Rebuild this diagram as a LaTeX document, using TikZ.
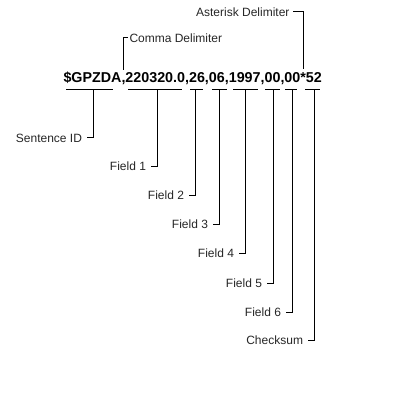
\documentclass[tikz,border=0pt]{standalone}
\usepackage{fontspec}
\setmainfont{Liberation Sans}
\begin{document}
\begin{tikzpicture}[x=1pt,y=-1pt,
  line width=1pt,
  lbl/.style={anchor=east, inner xsep=4.5pt, inner ysep=0pt, font=\fontsize{12}{14}\selectfont, text=black!85},
  conn/.style={draw=black, line width=1pt},
  uline/.style={draw=black, line width=1pt}]
\useasboundingbox (0,0) rectangle (403,414);
\node[anchor=base west, inner sep=0pt, font=\fontsize{14.3}{16}\selectfont\bfseries] (nmea) at (63,83) {\$GPZDA,220320.0,26,06,1997,00,00*52};

% underline segments and their tap points
\draw[uline] (66,90) -- (113,90);
\draw[uline] (128,90) -- (182,90);
\draw[uline] (190,90) -- (203,90);
\draw[uline] (212,90) -- (227,90);
\draw[uline] (233,90) -- (258,90);
\draw[uline] (265,90) -- (280,90);
\draw[uline] (285,90) -- (297,90);
\draw[uline] (305,90) -- (320,90);
\coordinate (u1) at (93,90);
\coordinate (u2) at (157,90);
\coordinate (u3) at (195,90);
\coordinate (u4) at (219,90);
\coordinate (u5) at (245,90);
\coordinate (u6) at (273,90);
\coordinate (u7) at (292,90);
\coordinate (u8) at (314,90);

% labels
\node[lbl] (l1) at (87,138) {Sentence ID};
\node[lbl] (l2) at (151,166) {Field 1};
\node[lbl] (l3) at (189,195) {Field 2};
\node[lbl] (l4) at (213,224) {Field 3};
\node[lbl] (l5) at (239,253) {Field 4};
\node[lbl] (l6) at (267,283) {Field 5};
\node[lbl] (l7) at (286,312) {Field 6};
\node[lbl] (l8) at (308,340) {Checksum};

\draw[conn] (u1) |- (l1.east);
\draw[conn] (u2) |- (l2.east);
\draw[conn] (u3) |- (l3.east);
\draw[conn] (u4) |- (l4.east);
\draw[conn] (u5) |- (l5.east);
\draw[conn] (u6) |- (l6.east);
\draw[conn] (u7) |- (l7.east);
\draw[conn] (u8) |- (l8.east);

% delimiters
\coordinate (cm) at (123,70);
\node[anchor=west, inner xsep=1pt, inner ysep=0pt, font=\fontsize{12}{14}\selectfont, text=black!85] (cdl) at (128,38) {Comma Delimiter};
\draw[conn] (cm) |- (cdl.west);
\coordinate (ast) at (303,69);
\node[lbl, inner xsep=3pt] (adl) at (293,12) {Asterisk Delimiter};
\draw[conn] (ast) |- (adl.east);
\end{tikzpicture}
\end{document}
